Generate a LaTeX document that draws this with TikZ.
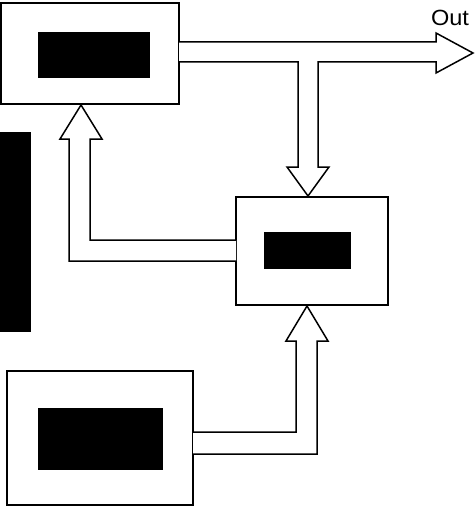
\documentclass[tikz,border=0pt]{standalone}
\usepackage{fontspec}
\setmainfont{Liberation Sans}
\begin{document}
\begin{tikzpicture}[x=1pt,y=-1pt,
  frame/.style={draw=black,line width=1.6pt,fill=white},
  core/.style={fill=black,draw=none,inner sep=0pt},
  blockarrow/.style={draw=black,line width=1.5pt,fill=white,line join=miter}]
\useasboundingbox (0,0) rectangle (474,508);
% boxes
\path[frame] (1,3) rectangle (179,104);
\path[frame] (236,197) rectangle (388,305);
\path[frame] (7,371) rectangle (193,505);
% black cores
\node[core,minimum width=112pt,minimum height=46pt] (Ac) at (94,55) {};
\node[core,minimum width=87pt,minimum height=37pt] (Bc) at (307.5,250.5) {};
\node[core,minimum width=125pt,minimum height=62pt] (Cc) at (100.5,439) {};
\node[core,minimum width=31pt,minimum height=200pt] (bar) at (15.5,232) {};
% out arrow with branch down
\draw[blockarrow] (179,42) -- (436,42) -- (436,33) -- (473,53) -- (436,73) -- (436,62)
  -- (318,62) -- (318,167) -- (329,167) -- (308,196) -- (287,167) -- (298,167)
  -- (298,62) -- (179,62);
% feedback arrow B -> A
\draw[blockarrow] (236,240) -- (90,240) -- (90,139) -- (102,139) -- (81,105)
  -- (60,139) -- (69,139) -- (69,261) -- (236,261);
% arrow C -> B
\draw[blockarrow] (193,432) -- (296,432) -- (296,341) -- (286,341) -- (307,306)
  -- (328,341) -- (317,341) -- (317,454) -- (193,454);
\node[font=\fontsize{22}{24}\selectfont,inner sep=0pt,xscale=1.07,anchor=base] (out) at (450,25.5) {Out};
\end{tikzpicture}
\end{document}
